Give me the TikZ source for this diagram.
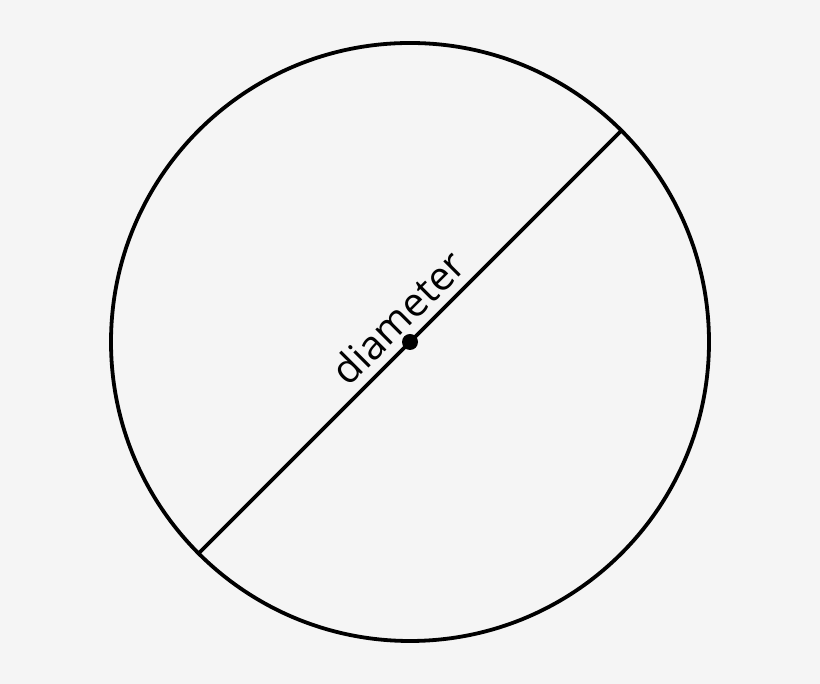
\documentclass[tikz,border=0pt]{standalone}
\usepackage{fontspec}
\setmainfont{Open Sans}
\usetikzlibrary{calc}
\definecolor{bg}{HTML}{F5F5F5}
\begin{document}
\begin{tikzpicture}[x=1pt,y=1pt,
  stroke/.style={line width=3.8pt, black},
  lbl/.style={font=\fontsize{40}{48}\selectfont, rotate=45, anchor=base, inner sep=0pt}]
\fill[bg] (0,0) rectangle (820,684);
\useasboundingbox (0,0) rectangle (820,684);
\coordinate (c) at (410,342);
\draw[stroke] (c) circle[radius=299];
\coordinate (p1) at ($(c)+(225:299)$);
\coordinate (p2) at ($(c)+(45:299)$);
\draw[stroke] (p1) -- (p2);
\fill (c) circle[radius=8];
\node[lbl] (t) at ($(c)+(45:9)+(135:11)$) {diameter};
\end{tikzpicture}
\end{document}
